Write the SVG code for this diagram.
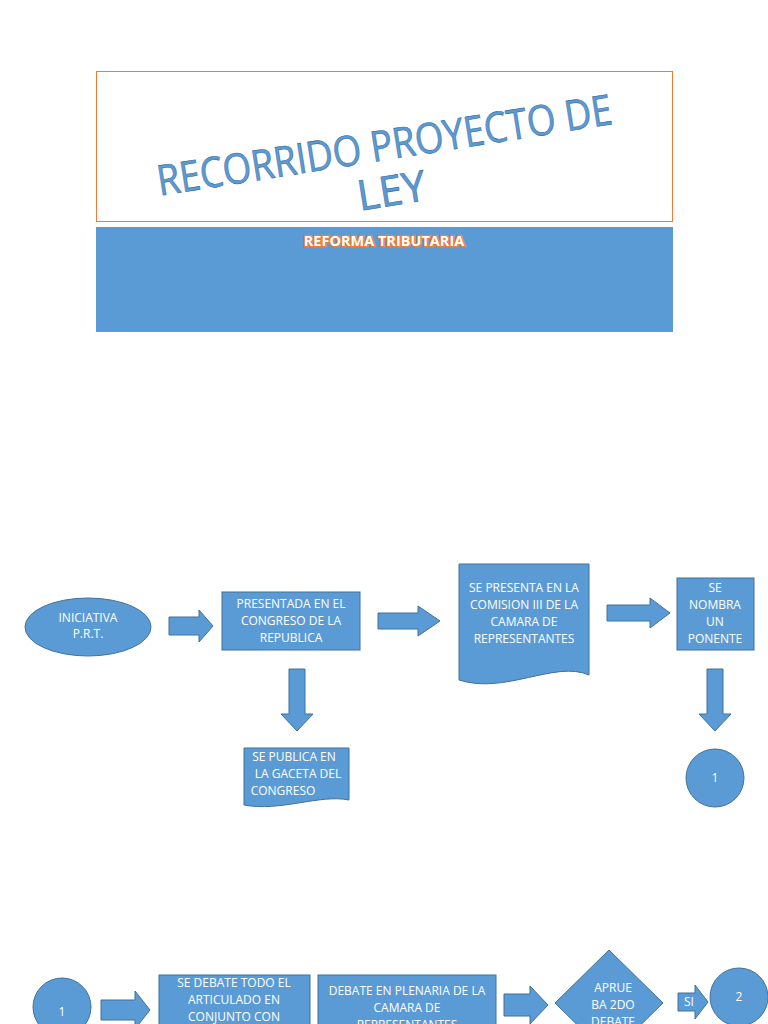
<svg xmlns="http://www.w3.org/2000/svg" width="768" height="1024" viewBox="0 0 768 1024">
<style>
.s{fill:#5B9BD5;stroke:#41719C;stroke-width:1}
.t{font-family:"Open Sans","Liberation Sans",sans-serif;font-size:12px;fill:#fff;text-anchor:middle}
</style>
<rect width="768" height="1024" fill="#fff"/>
<g id="title">
<rect x="96.5" y="71.5" width="576" height="150" fill="#fff" stroke="#ED7D31"/>
<g transform="rotate(-9 385 150)" font-family="Open Sans,Liberation Sans,sans-serif" font-size="42" fill="#5B9BD5" text-anchor="middle" stroke="#3a6ea0" stroke-width="0.6">
<text x="385" y="160" textLength="460" lengthAdjust="spacingAndGlyphs">RECORRIDO PROYECTO DE</text>
<text x="385" y="206">LEY</text>
</g>
</g>
<g id="subtitle">
<rect x="96" y="227" width="577" height="105" fill="#5B9BD5"/>
<text x="384" y="246" font-family="Open Sans,Liberation Sans,sans-serif" font-size="14.5" font-weight="bold" fill="#fff" stroke="#ED7D31" stroke-width="2.5" paint-order="stroke" text-anchor="middle">REFORMA TRIBUTARIA</text>
</g>
<g id="connectors">
<path class="s" d="M169,617H199V610L213,626L199,642V635H169Z"/>
<path class="s" d="M378,613H418V606L440,621L418,636V629H378Z"/>
<path class="s" d="M607,605H650V598L670,613L650,628V621H607Z"/>
<path class="s" d="M289,669H305V714H313L297,731L281,714H289Z"/>
<path class="s" d="M707,669H723V714H731L715,731L699,714H707Z"/>
<path class="s" d="M101,1000H135V991L150,1010L135,1029V1020H101Z"/>
<path class="s" d="M504,994H530V986L548,1005L530,1024V1016H504Z"/>
<path class="s" d="M678,993H695V985L708,1002L695,1019V1011H678Z"/>
<text class="t" x="689" y="1006" font-size="11">SI</text>
</g>
<g id="n1"><ellipse class="s" cx="88" cy="627" rx="63" ry="29"/>
<text class="t" x="88" y="622">INICIATIVA</text><text class="t" x="88" y="638">P.R.T.</text></g>
<g id="n2"><rect class="s" x="222" y="592" width="138" height="58"/>
<text class="t" x="291" y="608">PRESENTADA EN EL</text><text class="t" x="291" y="625">CONGRESO DE LA</text><text class="t" x="291" y="642">REPUBLICA</text></g>
<g id="n3"><path class="s" d="M459,564H589V675C555,660 505,695 459,680Z"/>
<text class="t" x="524" y="592">SE PRESENTA EN LA</text><text class="t" x="524" y="609">COMISION III DE LA</text><text class="t" x="524" y="626">CAMARA DE</text><text class="t" x="524" y="643">REPRESENTANTES</text></g>
<g id="n4"><rect class="s" x="677" y="578" width="77" height="72"/>
<text class="t" x="715" y="592">SE</text><text class="t" x="715" y="609">NOMBRA</text><text class="t" x="715" y="626">UN</text><text class="t" x="715" y="643">PONENTE</text></g>
<g id="n5"><path class="s" d="M244,748H349V800C320,794 280,812 244,805Z"/>
<text class="t" x="294" y="761">SE PUBLICA EN</text><text class="t" x="298" y="778">LA GACETA  DEL</text><text class="t" x="283" y="795">CONGRESO</text></g>
<g id="n6"><circle class="s" cx="715" cy="778" r="29"/><text class="t" x="715" y="782">1</text></g>
<g id="n7"><circle class="s" cx="62" cy="1007" r="29"/><text class="t" x="62" y="1016">1</text></g>
<g id="n8"><rect class="s" x="159" y="975" width="151" height="60"/>
<text class="t" x="234" y="987">SE DEBATE TODO EL</text><text class="t" x="234" y="1004">ARTICULADO EN</text><text class="t" x="234" y="1021">CONJUNTO CON</text></g>
<g id="n9"><rect class="s" x="318" y="975" width="178" height="60"/>
<text class="t" x="407" y="995">DEBATE EN PLENARIA DE LA</text><text class="t" x="407" y="1012">CAMARA DE</text><text class="t" x="407" y="1029">REPRESENTANTES</text></g>
<g id="n10"><path class="s" d="M609,950L663,1003L609,1056L555,1003Z"/>
<text class="t" x="613" y="992">APRUE</text><text class="t" x="613" y="1009">BA 2DO</text><text class="t" x="613" y="1026">DEBATE</text></g>
<g id="n11"><circle class="s" cx="739" cy="997" r="29"/><text class="t" x="739" y="1001">2</text></g>
</svg>
